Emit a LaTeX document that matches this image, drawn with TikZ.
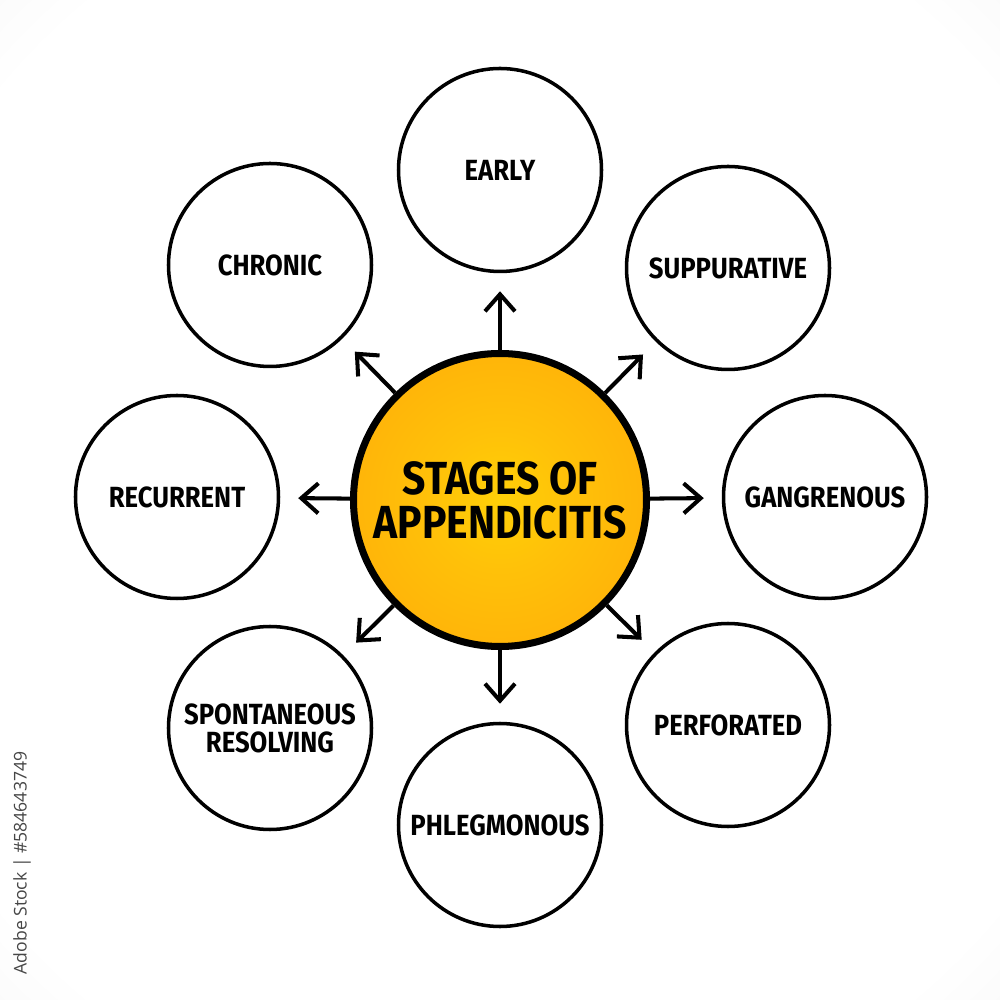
\documentclass[tikz,border=0pt]{standalone}
\usepackage{fontspec}
\setmainfont{Fira Sans}
\newfontfamily\handfont[FakeStretch=0.88]{Fira Sans}
\newfontfamily\stockfont{Open Sans}
\usetikzlibrary{arrows.meta, positioning, shadings}
\definecolor{hubyellow}{RGB}{255,208,8}
\definecolor{huborange}{RGB}{255,158,10}
\definecolor{vigngray}{RGB}{212,212,212}
\definecolor{stockgray}{RGB}{70,70,70}
\pgfdeclareradialshading{hubshade}{\pgfpoint{0bp}{0bp}}{color(0bp)=(hubyellow); color(12bp)=(hubyellow!70!huborange); color(50bp)=(huborange)}
\pgfdeclareradialshading{vignette}{\pgfpoint{0bp}{0bp}}{color(0bp)=(white); color(32bp)=(white); color(71bp)=(vigngray)}
\tikzset{
  hub/.style={circle, minimum size=2.93cm, inner sep=0pt, align=center, draw=black, line width=2pt, shade, shading=hubshade, font=\handfont\bfseries\fontsize{13.2}{12.5}\selectfont},
  stage/.style={circle, minimum size=2.03cm, inner sep=0pt, align=center, draw=black, line width=1pt, fill=white, font=\handfont\bfseries\fontsize{8.3}{8}\selectfont},
  arrow/.style={-{Straight Barb[length=1.7mm, width=3mm]}, line width=1.15pt, shorten >=1.8mm},
}
\begin{document}
\begin{tikzpicture}
\useasboundingbox (-5,-5) rectangle (5,5);
\shade[shading=vignette] (-5,-5) rectangle (5,5);
\node (stock) [rotate=90, text=stockgray, font=\stockfont\fontsize{5}{6}\selectfont] at (-4.78,-3.63) {Adobe Stock | \#584643749};
\node (hub)  [hub] at (0,0) {STAGES OF\\APPENDICITIS};
\node (early) [stage] at (0,3.30) {EARLY};
\node (supp)  [stage] at (2.28,2.32) {SUPPURATIVE};
\node (gang)  [stage] at (3.25,0.03) {GANGRENOUS};
\node (perf)  [stage] at (2.28,-2.25) {PERFORATED};
\node (phleg) [stage] at (0,-3.25) {PHLEGMONOUS};
\node (spont) [stage] at (-2.30,-2.28) {SPONTANEOUS\\RESOLVING};
\node (recur) [stage] at (-3.23,0.03) {RECURRENT};
\node (chron) [stage] at (-2.30,2.35) {CHRONIC};
\draw[arrow] (hub) -- (early);
\draw[arrow] (hub) -- (supp);
\draw[arrow] (hub) -- (gang);
\draw[arrow] (hub) -- (perf);
\draw[arrow] (hub) -- (phleg);
\draw[arrow] (hub) -- (spont);
\draw[arrow] (hub) -- (recur);
\draw[arrow] (hub) -- (chron);
\end{tikzpicture}
\end{document}
